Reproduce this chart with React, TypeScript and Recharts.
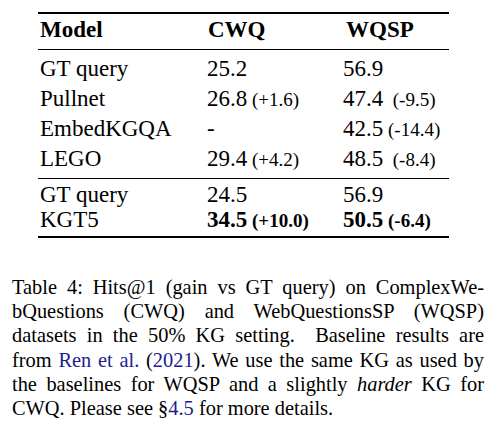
import { ReferenceLine, Scatter, ScatterChart, XAxis, YAxis } from 'recharts';

const headers = ['Model', 'CWQ', 'WQSP'];
const models = ['GT query', 'Pullnet', 'EmbedKGQA', 'LEGO', 'GT query', 'KGT5'];
const cwqScore: (number | null)[] = [25.2, 26.8, null, 29.4, 24.5, 34.5];
const cwqGain: (number | null)[] = [null, 1.6, null, 4.2, null, 10.0];
const wqspScore: (number | null)[] = [56.9, 47.4, 42.5, 48.5, 56.9, 50.5];
const wqspGain: (number | null)[] = [null, -9.5, -14.4, -8.4, null, -6.4];
const boldRows = [5];

// layout of the table in chart units (same as px here)
const W = 486;
const H = 250;
const colX = [40, 207, 343];
const headerX = [40, 208, 346];
const headerY = 37;
const rowY = [76, 106, 136, 166, 202, 227];
const wqspGap = [1, 2, 1, 2, 1, 1];
const rules = [
  { y: 13, w: 2 },
  { y: 49.5, w: 1 },
  { y: 178.5, w: 1 },
  { y: 237, w: 2 },
];
const ruleX = [38, 449];

const FONT = "'Liberation Serif', serif";
const LINK = '#1d1d8c';

type Cell = {
  x: number;
  y: number;
  label: string;
  gain?: string;
  gap?: number;
  bold?: boolean;
};

function fmt(v: number | null) {
  return v == null ? '-' : v.toFixed(1);
}

function fmtGain(v: number | null) {
  if (v == null) return undefined;
  return `(${v > 0 ? '+' : ''}${v.toFixed(1)})`;
}

const cells: Cell[] = [];
headers.forEach((h, i) => cells.push({ x: headerX[i], y: headerY, label: h, bold: true }));
models.forEach((m, r) => {
  const bold = boldRows.includes(r);
  cells.push({ x: colX[0], y: rowY[r], label: m });
  cells.push({ x: colX[1], y: rowY[r], label: fmt(cwqScore[r]), gain: fmtGain(cwqGain[r]), gap: 1, bold });
  cells.push({ x: colX[2], y: rowY[r], label: fmt(wqspScore[r]), gain: fmtGain(wqspGain[r]), gap: wqspGap[r], bold });
});

function CellText(props: any) {
  const { cx, cy, payload } = props;
  const c = payload as Cell;
  return (
    <text
      x={cx}
      y={cy}
      fontSize={23}
      fontWeight={c.bold ? 'bold' : 'normal'}
      fill="#000"
      style={{ whiteSpace: 'pre', fontFamily: FONT }}
    >
      <tspan>{c.label}</tspan>
      {c.gain && <tspan fontSize={19}>{' '.repeat(c.gap ?? 1) + c.gain}</tspan>}
    </text>
  );
}

function CaptionLine({ children, last }: { children: React.ReactNode; last?: boolean }) {
  return (
    <div style={{ textAlign: last ? 'left' : 'justify', textAlignLast: last ? 'left' : 'justify' } as React.CSSProperties}>
      {children}
    </div>
  );
}

export default function App() {
  return (
    <div style={{ position: 'fixed', left: 0, top: 0, width: W, height: 430, background: '#fff', fontFamily: FONT }}>
      <ScatterChart width={W} height={H} margin={{ top: 0, right: 0, bottom: 0, left: 0 }}>
        <XAxis type="number" dataKey="x" domain={[0, W]} hide />
        <YAxis type="number" dataKey="y" domain={[0, H]} reversed hide />
        {rules.map((r) => (
          <ReferenceLine
            key={r.y}
            segment={[
              { x: ruleX[0], y: r.y },
              { x: ruleX[1], y: r.y },
            ]}
            stroke="#000"
            strokeWidth={r.w}
          />
        ))}
        <Scatter data={cells} shape={(p: any) => <CellText {...p} />} isAnimationActive={false} />
      </ScatterChart>
      <div
        style={{
          position: 'absolute',
          left: 12,
          top: 275,
          width: 472,
          fontSize: 20.4,
          lineHeight: '24.2px',
          color: '#000',
        }}
      >
        <CaptionLine>Table 4: Hits@1 (gain vs GT query) on ComplexWe-</CaptionLine>
        <CaptionLine>bQuestions (CWQ) and WebQuestionsSP (WQSP)</CaptionLine>
        <CaptionLine>datasets in the 50% KG setting.&nbsp; Baseline results are</CaptionLine>
        <CaptionLine>
          from <span style={{ color: LINK }}>Ren et al.</span> (<span style={{ color: LINK }}>2021</span>). We use the same KG as used by
        </CaptionLine>
        <CaptionLine>
          the baselines for WQSP and a slightly <i>harder</i> KG for
        </CaptionLine>
        <CaptionLine last>
          CWQ. Please see §<span style={{ color: LINK }}>4.5</span> for more details.
        </CaptionLine>
      </div>
    </div>
  );
}
